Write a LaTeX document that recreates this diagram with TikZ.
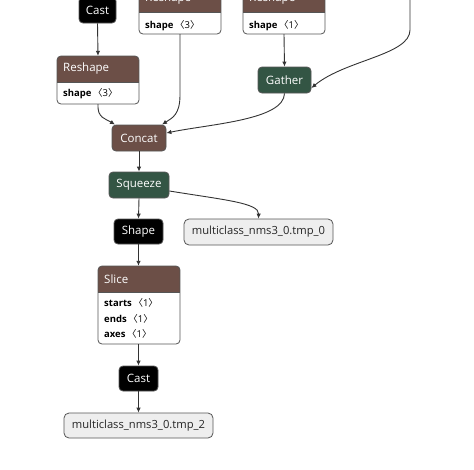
\documentclass[tikz,border=0pt]{standalone}
\usepackage{fontspec}
\setmainfont{Open Sans}
\newfontfamily\cjk{Noto Sans CJK SC}
\usetikzlibrary{arrows.meta,fit}
\definecolor{layer}{HTML}{6C4F47}
\definecolor{xform}{HTML}{335544}
\definecolor{edgec}{HTML}{333333}
\definecolor{bordc}{HTML}{555555}
\definecolor{iofill}{HTML}{EEEEEE}
\tikzset{
  opnode/.style={rounded corners=4pt, draw=bordc, line width=0.8pt, text=white,
     font=\fontsize{11.5}{12}\selectfont, inner sep=0pt},
  layerop/.style={opnode, fill=layer},
  xformop/.style={opnode, fill=xform},
  blackop/.style={opnode, fill=black},
  iobox/.style={rounded corners=5pt, draw=bordc, fill=iofill, line width=0.8pt,
     font=\fontsize{11.2}{12}\selectfont, text=black!85, inner sep=0pt},
  conn/.style={draw=edgec, line width=0.9pt, -{Latex[length=5pt,width=4.5pt]}},
  attrtxt/.style={font=\fontsize{9.5}{15.5}\selectfont, text=black, inner sep=0pt, anchor=base west},
  titletxt/.style={font=\fontsize{11.5}{12}\selectfont, text=white, inner sep=0pt, anchor=west},
}
\newcommand\br[1]{{\cjk\fontsize{9.5}{15.5}\selectfont 〈}#1{\cjk\fontsize{9.5}{15.5}\selectfont 〉}}
% name, x1, y1, x2, y2, yheader, title
\newcommand\mkattr[7]{%
  \path (#2,#3) coordinate (#1-nw) (#4,#5) coordinate (#1-se);
  \node[fit=(#1-nw)(#1-se), inner sep=0pt] (#1) {};
  \fill[white, rounded corners=4pt] (#2,#3) rectangle (#4,#5);
  \begin{scope}
    \clip[rounded corners=4pt] (#2,#3) rectangle (#4,#5);
    \fill[layer] (#2,#3) rectangle (#4,#6);
  \end{scope}
  \draw[bordc, line width=0.5pt] (#2,#6) -- (#4,#6);
  \draw[bordc, line width=0.8pt, rounded corners=4pt] (#2,#3) rectangle (#4,#5);
  \node[titletxt] (#1-title) at (#2+6,{(#3+#6)/2}) {#7};
}
\begin{document}
\begin{tikzpicture}[x=1pt,y=-1pt]
\useasboundingbox (0,0) rectangle (474,469);
\clip (0,0) rectangle (474,469);
\fill[white] (0,0) rectangle (474,469);

% top row
\node[blackop, minimum width=37pt, minimum height=26pt] (cast1) at (97.5,10) {Cast};
\mkattr{reshM}{139}{-14}{221}{34}{12}{Reshape}
\node[attrtxt] (reshM-a1) at (145,28) {\textbf{shape}\,\br{3}};
\mkattr{reshR}{243}{-14}{325}{34}{12}{Reshape}
\node[attrtxt] (reshR-a1) at (249,28) {\textbf{shape}\,\br{1}};
\coordinate (topin) at (410,-5);

% middle
\mkattr{reshL}{57}{56}{139}{104}{82}{Reshape}
\node[attrtxt] (reshL-a1) at (63,96.5) {\textbf{shape}\,\br{3}};
\node[xformop, minimum width=53pt, minimum height=26pt] (gather) at (284.5,80) {Gather};
\node[layerop, minimum width=54pt, minimum height=26pt] (concat) at (139,138) {Concat};
\node[xformop, minimum width=60pt, minimum height=26pt] (squeeze) at (139,185) {Squeeze};
\node[blackop, minimum width=49pt, minimum height=25pt] (shape) at (138.5,231.5) {Shape};
\node[iobox, minimum width=149pt, minimum height=26pt] (tmp0) at (258.5,232) {multiclass\_nms3\_0.tmp\_0};
\mkattr{slice}{98}{266}{180}{344}{292}{Slice}
\node[attrtxt] (slice-a1) at (104,306.5) {\textbf{starts}\,\br{1}};
\node[attrtxt] (slice-a2) at (104,322) {\textbf{ends}\,\br{1}};
\node[attrtxt] (slice-a3) at (104,337.5) {\textbf{axes}\,\br{1}};
\node[blackop, minimum width=39pt, minimum height=25pt] (cast2) at (138.5,378.5) {Cast};
\node[iobox, minimum width=149pt, minimum height=25pt] (tmp2) at (138.5,425.5) {multiclass\_nms3\_0.tmp\_2};

% connectors
\draw[conn] (cast1.south) -- (reshL.north);
\draw[conn] (reshL.south) .. controls (97,118) and (106,119) .. ([xshift=-24pt]concat.north);
\draw[conn] (reshM.south) -- (180,95) .. controls (180,115) and (172,118) .. ([xshift=23pt]concat.north);
\draw[conn] (reshR.south) -- (gather.north);
\draw[conn] (topin) -- (410,30) .. controls (410,55) and (345,60) .. ([yshift=-8pt]gather.east);
\draw[conn] (gather.south) .. controls (284,120) and (210,124) .. ([yshift=5pt]concat.east);
\draw[conn] (concat.south) -- (squeeze.north);
\draw[conn] ([yshift=-6pt]squeeze.east) .. controls (225,200) and (259,203) .. (tmp0.north);
\draw[conn] (squeeze.south) -- (shape.north);
\draw[conn] (shape.south) -- (slice.north -| shape.south);
\draw[conn] (slice.south -| cast2.north) -- (cast2.north);
\draw[conn] (cast2.south) -- (tmp2.north);
\end{tikzpicture}
\end{document}
